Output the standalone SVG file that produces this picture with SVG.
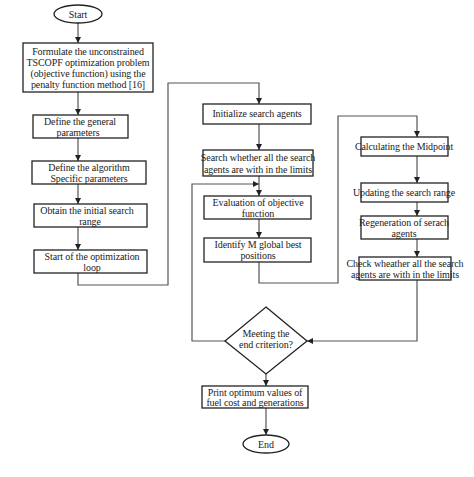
<svg xmlns="http://www.w3.org/2000/svg" width="474" height="477" viewBox="0 0 474 477">
<style>
.b{fill:#fff;stroke:#222;stroke-width:1.3}
.t{font-family:"Liberation Serif","Times New Roman",serif;font-size:10px;letter-spacing:-0.1px;fill:#222;text-anchor:middle}
.c{fill:none;stroke:#555;stroke-width:1.2}
</style>
<defs>
<marker id="a" viewBox="0 0 8 8" refX="8" refY="4" markerWidth="6" markerHeight="6" orient="auto" markerUnits="userSpaceOnUse"><path d="M0,0L8,4L0,8z" fill="#222"/></marker>
</defs>
<rect width="474" height="477" fill="#fff"/>
<g id="connectors">
<path class="c" d="M78,23V43" marker-end="url(#a)"/>
<path class="c" d="M78,92V115" marker-end="url(#a)"/>
<path class="c" d="M78,138V161" marker-end="url(#a)"/>
<path class="c" d="M78,184V204" marker-end="url(#a)"/>
<path class="c" d="M78,227V250" marker-end="url(#a)"/>
<path class="c" d="M78,273V285H168V83H259V104" marker-end="url(#a)"/>
<path class="c" d="M259,124V150" marker-end="url(#a)"/>
<path class="c" d="M259,176V196" marker-end="url(#a)"/>
<path class="c" d="M225,341H192V184H259" marker-end="url(#a)"/>
<path class="c" d="M259,219V238" marker-end="url(#a)"/>
<path class="c" d="M259,262V283H338V116H417V137" marker-end="url(#a)"/>
<path class="c" d="M417,156V183" marker-end="url(#a)"/>
<path class="c" d="M417,202V216" marker-end="url(#a)"/>
<path class="c" d="M417,239V257" marker-end="url(#a)"/>
<path class="c" d="M417,280V341H307" marker-end="url(#a)"/>
<path class="c" d="M266,374V386" marker-end="url(#a)"/>
<path class="c" d="M266,408V435" marker-end="url(#a)"/>
</g>
<g id="start"><ellipse class="b" cx="78" cy="14" rx="24" ry="9"/><text class="t" x="78" y="18">Start</text></g>
<g id="formulate"><rect class="b" x="23" y="43" width="130" height="49"/>
<text class="t" x="88" y="55">Formulate the unconstrained</text>
<text class="t" x="88" y="66">TSCOPF optimization problem</text>
<text class="t" x="88" y="77">(objective function) using the</text>
<text class="t" x="88" y="88">penalty function method [16]</text></g>
<g id="general"><rect class="b" x="33" y="115" width="95" height="23"/>
<text class="t" x="80" y="125">Define the general</text><text class="t" x="78" y="136">parameters</text></g>
<g id="specific"><rect class="b" x="32" y="161" width="114" height="23"/>
<text class="t" x="89" y="171">Define the algorithm</text><text class="t" x="89" y="182">Specific parameters</text></g>
<g id="range"><rect class="b" x="34" y="204" width="113" height="23"/>
<text class="t" x="87" y="214">Obtain the initial search</text><text class="t" x="90" y="225">range</text></g>
<g id="loopstart"><rect class="b" x="34" y="250" width="113" height="23"/>
<text class="t" x="92" y="260">Start of the optimization</text><text class="t" x="92" y="271">loop</text></g>
<g id="init"><rect class="b" x="203" y="104" width="108" height="20"/>
<text class="t" x="257" y="117">Initialize search agents</text></g>
<g id="search"><rect class="b" x="203" y="150" width="110" height="26"/>
<text class="t" x="258" y="161">Search whether all the search</text><text class="t" x="258" y="173">agents are with in the limits</text></g>
<g id="eval"><rect class="b" x="204" y="196" width="107" height="23"/>
<text class="t" x="258" y="206">Evaluation of objective</text><text class="t" x="258" y="217">function</text></g>
<g id="identify"><rect class="b" x="204" y="238" width="107" height="24"/>
<text class="t" x="258" y="248">Identify M global best</text><text class="t" x="258" y="259">positions</text></g>
<g id="midpoint"><rect class="b" x="361" y="137" width="87" height="19"/>
<text class="t" x="404" y="150">Calculating the Midpoint</text></g>
<g id="update"><rect class="b" x="361" y="183" width="87" height="19"/>
<text class="t" x="404" y="196">Updating the search range</text></g>
<g id="regen"><rect class="b" x="361" y="216" width="87" height="23"/>
<text class="t" x="404" y="226">Regeneration of serach</text><text class="t" x="404" y="237">agents</text></g>
<g id="check"><rect class="b" x="359" y="257" width="92" height="23"/>
<text class="t" x="405" y="267">Check wheather all the search</text><text class="t" x="405" y="278">agents are with in the limits</text></g>
<g id="decision"><path class="b" d="M266,307L307,341L266,374L225,341Z"/>
<text class="t" x="266" y="337">Meeting the</text><text class="t" x="266" y="348">end criterion?</text></g>
<g id="print"><rect class="b" x="202" y="386" width="106" height="22"/>
<text class="t" x="255" y="396">Print optimum values of</text><text class="t" x="255" y="406">fuel cost and generations</text></g>
<g id="end"><ellipse class="b" cx="266" cy="444" rx="23" ry="9"/><text class="t" x="266" y="448">End</text></g>
</svg>
